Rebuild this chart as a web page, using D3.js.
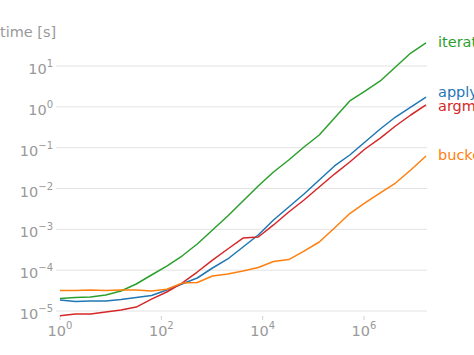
<!DOCTYPE html>
<html>
<head>
<meta charset="utf-8">
<script src="https://cdn.jsdelivr.net/npm/d3@7"></script>
<style>
  html, body { margin: 0; padding: 0; background: #fff; overflow: hidden; }
  svg { display: block; font-family: "DejaVu Sans", sans-serif; }
</style>
</head>
<body>
<div id="chart"></div>
<script>
// problem sizes n = 2^0 .. 2^24
const nRange = d3.range(25).map(k => 2 ** k);

// timings in seconds
const iterative = [2.02e-5, 2.14e-5, 2.20e-5, 2.46e-5, 3.08e-5, 4.58e-5, 7.61e-5, 1.26e-4, 2.22e-4, 4.37e-4,
  9.61e-4, 2.12e-3, 4.94e-3, 1.15e-2, 2.54e-2, 4.99e-2, 0.104, 0.204, 0.532, 1.39,
  2.44, 4.30, 9.45, 20.8, 36.6];
const applyAlongAxis = [1.86e-5, 1.71e-5, 1.75e-5, 1.75e-5, 1.91e-5, 2.14e-5, 2.39e-5, 3.27e-5, 4.58e-5, 6.43e-5,
  1.13e-4, 1.88e-4, 3.69e-4, 7.26e-4, 1.69e-3, 3.52e-3, 7.33e-3, 1.61e-2, 3.56e-2, 6.61e-2,
  0.138, 0.286, 0.563, 0.99, 1.74];
const argmin = [7.7e-6, 8.4e-6, 8.4e-6, 9.5e-6, 1.06e-5, 1.25e-5, 1.96e-5, 2.92e-5, 4.84e-5, 9.0e-5,
  1.77e-4, 3.30e-4, 6.12e-4, 6.48e-4, 1.28e-3, 2.66e-3, 5.22e-3, 1.09e-2, 2.26e-2, 4.46e-2,
  9.27e-2, 0.172, 0.339, 0.631, 1.11];
const bucket = [3.18e-5, 3.18e-5, 3.27e-5, 3.18e-5, 3.27e-5, 3.27e-5, 3.10e-5, 3.40e-5, 4.83e-5, 4.98e-5,
  7.19e-5, 8.05e-5, 9.53e-5, 1.16e-4, 1.63e-4, 1.82e-4, 2.94e-4, 4.89e-4, 1.08e-3, 2.44e-3,
  4.42e-3, 7.76e-3, 1.36e-2, 2.84e-2, 6.25e-2];

const seriesNames = ['iterative', 'apply_along_axis', 'argmin', 'bucket'];
const seriesColors = ['#2ca02c', '#1f77b4', '#d62728', '#ff7f0e'];
const seriesValues = [iterative, applyAlongAxis, argmin, bucket];

const xTickExps = [0, 2, 4, 6];
const yTickExps = [-5, -4, -3, -2, -1, 0, 1];

const width = 474, height = 355;
const textColor = '#999';

const svg = d3.select('#chart').append('svg')
    .attr('width', width)
    .attr('height', height);

const x = d3.scaleLog().domain([1, 2 ** 24]).range([60, 426]);
const y = d3.scaleLog().domain([1e-5, 1e1]).range([311, 66]);

// gridlines
svg.append('g').selectAll('line')
    .data(yTickExps)
    .join('line')
    .attr('x1', 56).attr('x2', 427)
    .attr('y1', d => y(10 ** d)).attr('y2', d => y(10 ** d))
    .attr('stroke', '#e3e3e3')
    .attr('stroke-width', 1);

// power-of-ten label helper
function powerLabel(sel, exp) {
    sel.append('tspan').text('10');
    sel.append('tspan')
        .attr('dy', -7)
        .attr('font-size', 10)
        .text(String(exp).replace('-', '\u2212'));
}

// y tick labels
svg.append('g').selectAll('text')
    .data(yTickExps)
    .join('text')
    .attr('x', 53)
    .attr('y', d => y(10 ** d) + 8)
    .attr('text-anchor', 'end')
    .attr('font-size', 14.5)
    .attr('fill', textColor)
    .each(function(d) { powerLabel(d3.select(this), d); });

// x ticks
const xt = svg.append('g').selectAll('g')
    .data(xTickExps)
    .join('g')
    .attr('transform', d => `translate(${x(10 ** d)},0)`);

xt.append('line')
    .attr('y1', 316).attr('y2', 320)
    .attr('stroke', '#d0d0d0');

xt.append('text')
    .attr('y', 336)
    .attr('text-anchor', 'middle')
    .attr('font-size', 14.5)
    .attr('fill', textColor)
    .each(function(d) { powerLabel(d3.select(this), d); });

// y axis title
svg.append('text')
    .attr('x', 0)
    .attr('y', 37)
    .attr('font-size', 14.5)
    .attr('fill', textColor)
    .text('time [s]');

// lines
const line = d3.line()
    .x((d, i) => x(nRange[i]))
    .y(d => y(d));

svg.append('g').selectAll('path')
    .data(seriesValues)
    .join('path')
    .attr('d', d => line(d))
    .attr('fill', 'none')
    .attr('stroke', (d, i) => seriesColors[i])
    .attr('stroke-width', 1.5)
    .attr('stroke-linejoin', 'round');

// labels at line ends
const labelY = [42, 92, 106, 155];
svg.append('g').selectAll('text')
    .data(seriesNames)
    .join('text')
    .attr('x', 438)
    .attr('y', (d, i) => labelY[i])
    .attr('dy', '0.35em')
    .attr('font-size', 14.5)
    .attr('fill', (d, i) => seriesColors[i])
    .text(d => d);
</script>
</body>
</html>
